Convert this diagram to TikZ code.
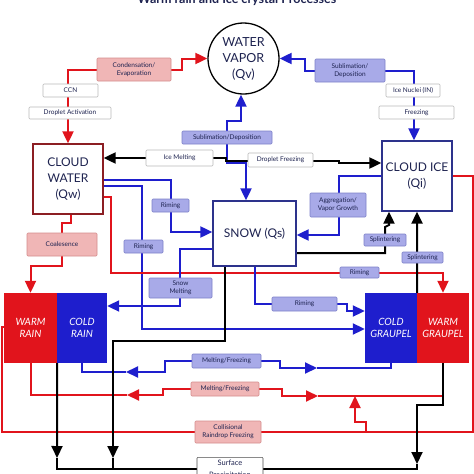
\documentclass[tikz,border=0pt]{standalone}
\usepackage{fontspec}
\setmainfont{Lato}
\usetikzlibrary{arrows.meta}
\pgfdeclarelayer{bg}
\pgfsetlayers{bg,main}
\definecolor{warmred}{RGB}{225,20,28}
\definecolor{coldblue}{RGB}{30,30,205}
\definecolor{rimred}{RGB}{140,30,35}
\definecolor{rimblue}{RGB}{45,50,140}
\definecolor{pinkfill}{RGB}{240,182,182}
\definecolor{pinkedge}{RGB}{212,140,140}
\definecolor{lavfill}{RGB}{168,170,232}
\definecolor{lavedge}{RGB}{125,128,200}
\definecolor{grayedge}{RGB}{185,185,185}
\definecolor{inkblue}{RGB}{30,35,80}
\begin{document}
\begin{tikzpicture}[x=1pt,y=-1pt,
    every node/.style={text=inkblue,inner sep=0pt,align=center},
    lbl/.style={draw,rounded corners=1pt,line width=0.6pt,font=\fontsize{6.5}{7.8}\selectfont},
    pinklbl/.style={lbl,fill=pinkfill,draw=pinkedge},
    bluelbl/.style={lbl,fill=lavfill,draw=lavedge},
    whitelbl/.style={lbl,fill=white,draw=grayedge},
    proc/.style={draw,line width=1.3pt,fill=white,font=\fontsize{12}{16}\selectfont},
    phase/.style={font=\fontsize{10}{12}\selectfont\itshape,text=white,minimum height=70pt},
    redl/.style={line width=2pt,draw=warmred},
    bluel/.style={line width=2pt,draw=coldblue},
    blackl/.style={line width=2pt,draw=black},
    arrowhd/.style={-{Triangle[length=12pt,width=11pt]}},
    bothhd/.style={{Triangle[length=12pt,width=11pt]}-{Triangle[length=12pt,width=11pt]}}]
    \useasboundingbox (0,0) rectangle (474,474);
    \node[anchor=base,font=\fontsize{12.5}{14}\selectfont\bfseries] (title) at (237,3) {Warm rain and Ice crystal Processes};
    % reservoirs
    \node[circle,draw=black,line width=1.3pt,fill=white,minimum size=71pt,font=\fontsize{12.5}{16}\selectfont] (qv) at (243.5,58.5) {WATER\\VAPOR\\(Qv)};
    \node[proc,draw=rimred,minimum width=70pt,minimum height=70pt] (qw) at (68,179) {CLOUD\\WATER\\(Qw)};
    \node[proc,draw=rimblue,minimum width=70pt,minimum height=70pt] (qi) at (417,176) {CLOUD ICE\\(Qi)};
    \node[proc,draw=rimblue,minimum width=83pt,minimum height=65pt] (qs) at (254.5,233.5) {SNOW (Qs)};
    \node[phase,fill=warmred,minimum width=53pt] (wr) at (30.5,328) {WARM\\RAIN};
    \node[phase,fill=coldblue,minimum width=50pt] (cr) at (82,328) {COLD\\RAIN};
    \node[phase,fill=coldblue,minimum width=52pt] (cg) at (391,328) {COLD\\GRAUPEL};
    \node[phase,fill=warmred,minimum width=52pt] (wg) at (443,328) {WARM\\GRAUPEL};
    \node[whitelbl,draw=black!70,font=\fontsize{7.5}{12}\selectfont,minimum width=66pt,anchor=north,inner ysep=3pt] (sp) at (230,457) {Surface\\Precipitation};
    % process labels
    \node[pinklbl,minimum width=74pt,minimum height=23pt] (cond) at (134,69.5) {Condensation/\\Evaporation};
    \node[whitelbl,minimum width=55pt,minimum height=13pt] (ccn) at (70.5,90.5) {CCN};
    \node[whitelbl,minimum width=82pt,minimum height=12pt] (act) at (70,113) {Droplet Activation};
    \node[bluelbl,minimum width=70pt,minimum height=23pt] (subr) at (350,70.5) {Sublimation/\\Deposition};
    \node[whitelbl,minimum width=54pt,minimum height=13pt] (inuc) at (413,90.5) {Ice Nuclei (IN)};
    \node[whitelbl,minimum width=75pt,minimum height=13pt] (frz) at (416.5,112.5) {Freezing};
    \node[bluelbl,minimum width=90pt,minimum height=13pt] (subc) at (227,137.5) {Sublimation/Deposition};
    \node[whitelbl,minimum width=67pt,minimum height=16pt] (icem) at (179.5,158) {Ice Melting};
    \node[whitelbl,minimum width=65pt,minimum height=14pt] (dropf) at (280.5,160) {Droplet Freezing};
    \node[bluelbl,minimum width=56pt,minimum height=24pt] (aggr) at (338,205) {Aggregation/\\Vapor Growth};
    \node[bluelbl,minimum width=37pt,minimum height=13pt] (rimA) at (170.5,205.5) {Riming};
    \node[bluelbl,minimum width=39pt,minimum height=13pt] (rimB) at (143.5,246.5) {Riming};
    \node[pinklbl,minimum width=70pt,minimum height=23pt] (coal) at (62,244.5) {Coalesence};
    \node[bluelbl,minimum width=42pt,minimum height=12pt] (splA) at (385,240) {Splintering};
    \node[bluelbl,minimum width=41pt,minimum height=11pt] (splB) at (422.5,257.5) {Splintering};
    \node[bluelbl,minimum width=39pt,minimum height=11pt] (rimC) at (359.5,272.5) {Riming};
    \node[bluelbl,minimum width=63pt,minimum height=20pt] (snowm) at (180.5,288) {Snow\\Melting};
    \node[bluelbl,minimum width=65pt,minimum height=14pt] (rimD) at (304.5,304) {Riming};
    \node[bluelbl,minimum width=69pt,minimum height=14pt] (mfb) at (226.5,361) {Melting/Freezing};
    \node[pinklbl,minimum width=68pt,minimum height=14pt] (mfr) at (225,389) {Melting/Freezing};
    \node[pinklbl,minimum width=66pt,minimum height=22pt] (coll) at (228,432) {Collisional\\Raindrop Freezing};
    \coordinate (mrL) at (127,395);
    \coordinate (mrR) at (318,396);
    \coordinate (mbL) at (126,372);
    \coordinate (mbR) at (317,368);
    \coordinate (snA) at (57,458);
    \coordinate (snB) at (113,458);
    \coordinate (snC) at (417,464);
    \begin{pgfonlayer}{bg}
        % vapour exchanges
        \draw[redl,arrowhd] (cond.west) -| (qw.north);
        \draw[redl,arrowhd] (cond.east) -- (182,69.5) -- (182,58.5) -- (qv.west);
        \draw[bluel,arrowhd] (subr.west) -- (305,70.5) -- (305,58.5) -- (qv.east);
        \draw[bluel,arrowhd] (subr.east) -| ([xshift=-3pt]qi.north);
        \draw[bluel,bothhd] ([xshift=-2.5pt]qv.south) -- (241,121) -- (227,121) -- (227,163)
            -- (246,163) -- ([xshift=-8.5pt]qs.north);
        \draw[blackl,bothhd] (qw.east |- 0,158) -- (226,158) -- (226,161) -- (339,161)
            -- (339,163) -- (qi.west |- 0,163);
        % cloud water
        \draw[bluel,arrowhd] (qw.east |- 0,180) -- (171,180) -- (171,232) -- (qs.west |- 0,232);
        \draw[bluel,arrowhd] (qw.east |- 0,186) -- (142,186) -- (142,329) -- (cg.west |- 0,329);
        \draw[redl,arrowhd] (qw.east |- 0,197) -- (111,197) -- (111,273) -| (wg.north);
        \draw[redl] (71,214) -- (71,223) -- (62,223) -- (coal.north);
        \draw[redl,arrowhd] (coal.south) -- (62,266) -| (wr.north);
        % cloud ice and snow
        \draw[bluel,arrowhd] (qi.west |- 0,176) -- (339,176) -- (339,235) -- (qs.east |- 0,235);
        \draw[bluel,arrowhd] (qs.west |- 0,249) -- (180,249) -- (180,306) -- (cr.east |- 0,306);
        \draw[bluel] (qs.south) -- (254.5,304) -- (rimD.west);
        \draw[bluel,arrowhd] (rimD.east) -- (347,304) -- (347,311) -- (cg.west |- 0,311);
        \draw[blackl,arrowhd] (qs.east |- 0,253) -- (385,253) -- (385,227) -- (389,225) -- (qi.south -| 389,0);
        \draw[blackl,arrowhd] (cg.north east) -- (qi.south);
        % rain and graupel
        \draw[redl] (wr.west |- 0,327) -- (2,327) -- (2,432) -- (473,432) -- (473,176) -- (qi.east |- 0,176);
        \draw[redl,arrowhd] (366,432) -- (366,422) -- (355,422) -- (355,396);
        \draw[redl,arrowhd] (mfr.west) -- (163,389) -- (163,395) -- (mrL);
        \draw[redl] (mrL) -- (30.5,395) -- (wr.south);
        \draw[redl,arrowhd] (mfr.east) -- (282,389) -- (282,396) -- (mrR);
        \draw[redl] (mrR) -- (443,396);
        \draw[bluel,arrowhd] (mfb.west) -- (165,361) -- (165,372) -- (mbL);
        \draw[bluel] (mbL) -- (82,372) -- (cr.south);
        \draw[bluel,arrowhd] (mfb.east) -- (280,361) -- (280,368) -- (mbR);
        \draw[bluel] (mbR) -- (391,368) -- (cg.south);
        % precipitation
        \draw[blackl,arrowhd] (qs.south -| 225,0) -- (225,341) -- (113,341) -- (snB);
        \draw[blackl,arrowhd] (wr.south east) -- (snA);
        \draw[blackl] (snA) -- (57,469) -- (sp.west |- 0,469);
        \draw[blackl] (snB) -- (113,469);
        \draw[blackl,arrowhd] (wg.south) -- (443,405) -- (417,405) -- (snC);
        \draw[blackl] (snC) -- (417,469) -- (sp.east |- 0,469);
    \end{pgfonlayer}
\end{tikzpicture}
\end{document}
